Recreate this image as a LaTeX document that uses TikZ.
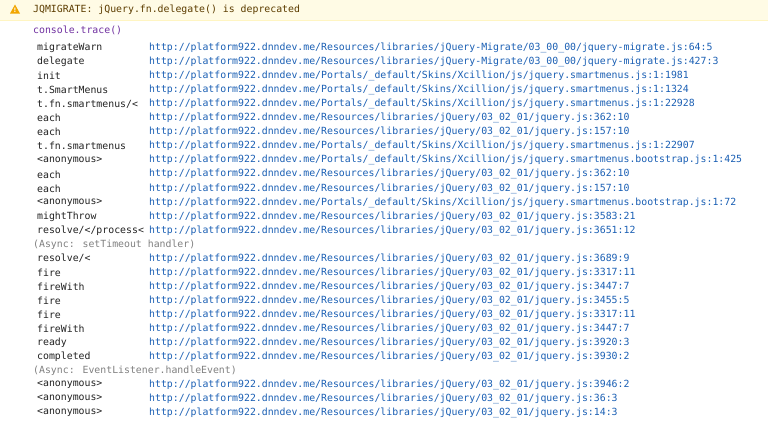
\documentclass[tikz,border=0pt]{standalone}
\usepackage{fontspec}
\newfontfamily\mono{DejaVu Sans Mono}
\newfontfamily\dv{DejaVu Sans}
\definecolor{warnbg}{HTML}{FFFBE5}
\definecolor{warnbd}{HTML}{FFF5C2}
\definecolor{warnfg}{HTML}{5C3C00}
\definecolor{urlc}{HTML}{1A5FB4}
\definecolor{fnc}{HTML}{222222}
\definecolor{grayc}{HTML}{808080}
\definecolor{purp}{HTML}{7030A0}
\definecolor{orng}{HTML}{F2A600}
\begin{document}
\begin{tikzpicture}[x=1pt,y=-1pt,
  t/.style={anchor=west,inner sep=0pt,font=\mono\fontsize{9.85}{11}\selectfont},
  fn/.style={t,text=fnc},
  url/.style={t,text=urlc},
  gr/.style={t,text=grayc}]
\useasboundingbox[fill=white] (0,0) rectangle (768,426);
\fill[warnbg] (0,0) rectangle (768,20);
\draw[warnbd] (0,20) -- (768,20);
\fill[orng] (15,4.5) -- (20,13.5) -- (10,13.5) -- cycle;
\node[text=white,font=\dv\bfseries\fontsize{6}{6}\selectfont] (ic) at (15,10.5) {!};
\node[t,text=warnfg] (hd) at (33,10) {JQMIGRATE: jQuery.fn.delegate() is deprecated};
\node[t,text=purp] (ct) at (33,30) {console.trace()};
\def\R{http://platform922.dnndev.me/Resources/libraries/}
\def\P{http://platform922.dnndev.me/Portals/\_default/Skins/Xcillion/js/}
\foreach \i/\f/\u in {
 0/migrateWarn/{\R jQuery-Migrate/03\_00\_00/jquery-migrate.js:64:5},
 1/delegate/{\R jQuery-Migrate/03\_00\_00/jquery-migrate.js:427:3},
 2/init/{\P jquery.smartmenus.js:1:1981},
 3/t.SmartMenus/{\P jquery.smartmenus.js:1:1324},
 4/{t.fn.smartmenus/<{}}/{\P jquery.smartmenus.js:1:22928},
 5/each/{\R jQuery/03\_02\_01/jquery.js:362:10},
 6/each/{\R jQuery/03\_02\_01/jquery.js:157:10},
 7/t.fn.smartmenus/{\P jquery.smartmenus.js:1:22907},
 8/<{}anonymous>/{\P jquery.smartmenus.bootstrap.js:1:425},
 9/each/{\R jQuery/03\_02\_01/jquery.js:362:10},
 10/each/{\R jQuery/03\_02\_01/jquery.js:157:10},
 11/<{}anonymous>/{\P jquery.smartmenus.bootstrap.js:1:72},
 12/mightThrow/{\R jQuery/03\_02\_01/jquery.js:3583:21},
 13/{resolve/<{}/process<{}}/{\R jQuery/03\_02\_01/jquery.js:3651:12},
 15/{resolve/<{}}/{\R jQuery/03\_02\_01/jquery.js:3689:9},
 16/fire/{\R jQuery/03\_02\_01/jquery.js:3317:11},
 17/fireWith/{\R jQuery/03\_02\_01/jquery.js:3447:7},
 18/fire/{\R jQuery/03\_02\_01/jquery.js:3455:5},
 19/fire/{\R jQuery/03\_02\_01/jquery.js:3317:11},
 20/fireWith/{\R jQuery/03\_02\_01/jquery.js:3447:7},
 21/ready/{\R jQuery/03\_02\_01/jquery.js:3920:3},
 22/completed/{\R jQuery/03\_02\_01/jquery.js:3930:2},
 24/<{}anonymous>/{\R jQuery/03\_02\_01/jquery.js:3946:2},
 25/<{}anonymous>/{\R jQuery/03\_02\_01/jquery.js:36:3},
 26/<{}anonymous>/{\R jQuery/03\_02\_01/jquery.js:14:3}}{
  \node[fn] (f\i) at (37,48+\i*14.04) {\f};
  \node[url] (u\i) at (149,48+\i*14.04) {\u};
}
\node[gr] (a1) at (33,48+14*14.04) {(Async: setTimeout handler)};
\node[gr] (a2) at (33,48+23*14.04) {(Async: EventListener.handleEvent)};
\end{tikzpicture}
\end{document}
